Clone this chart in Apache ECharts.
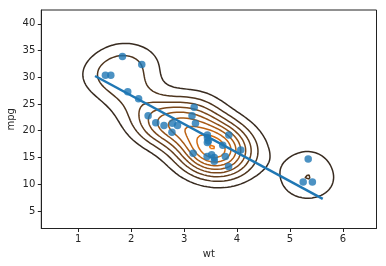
<!DOCTYPE html>
<html>
<head>
<meta charset="utf-8">
<script src="https://cdn.jsdelivr.net/npm/echarts@6/dist/echarts.min.js"></script>
<style>
  html, body { margin: 0; padding: 0; background: #fff; }
  #chart { width: 386px; height: 266px; }
</style>
</head>
<body>
<div id="chart"></div>
<script>
// mtcars: weight (1000 lbs) vs miles per gallon
const WT = [2.620, 2.875, 2.320, 3.215, 3.440, 3.460, 3.570, 3.190, 3.150, 3.440, 3.440,
  4.070, 3.730, 3.780, 5.250, 5.424, 5.345, 2.200, 1.615, 1.835, 2.465, 3.520, 3.435,
  3.840, 3.845, 1.935, 2.140, 1.513, 3.170, 2.770, 3.570, 2.780]
const MPG = [21.0, 21.0, 22.8, 21.4, 18.7, 18.1, 14.3, 24.4, 22.8, 19.2, 17.8,
  16.4, 17.3, 15.2, 10.4, 10.4, 14.7, 32.4, 30.4, 33.9, 21.5, 15.5, 15.2,
  13.3, 19.2, 27.3, 26.0, 30.4, 15.8, 19.7, 15.0, 21.4]

const X_TICKS = [1, 2, 3, 4, 5, 6]
const Y_TICKS = [5, 10, 15, 20, 25, 30, 35, 40]

const GRID_SIZE = 100
const CUT = 3
const N_LEVELS = 10

function percentile (values, p) {
  const s = values.slice().sort((a, b) => a - b)
  const idx = p / 100 * (s.length - 1)
  const lo = Math.floor(idx)
  const hi = Math.min(lo + 1, s.length - 1)
  return s[lo] + (s[hi] - s[lo]) * (idx - lo)
}

function std (values) {
  const m = values.reduce((a, b) => a + b, 0) / values.length
  const v = values.reduce((a, b) => a + (b - m) * (b - m), 0) / (values.length - 1)
  return Math.sqrt(v)
}

// scott bandwidth, statsmodels flavour
function bwScott (values) {
  const iqr = (percentile(values, 75) - percentile(values, 25)) / 1.349
  const a = Math.min(std(values), iqr)
  return 1.059 * a * Math.pow(values.length, -0.2)
}

function linspace (a, b, n) {
  const out = []
  for (let i = 0; i < n; i++) out.push(a + (b - a) * i / (n - 1))
  return out
}

function kdeGrid () {
  const hx = bwScott(WT)
  const hy = bwScott(MPG)
  const xs = linspace(Math.min(...WT) - hx * CUT, Math.max(...WT) + hx * CUT, GRID_SIZE)
  const ys = linspace(Math.min(...MPG) - hy * CUT, Math.max(...MPG) + hy * CUT, GRID_SIZE)
  const norm = 1 / (WT.length * hx * hy * 2 * Math.PI)
  const z = ys.map(y => xs.map(x => {
    let sum = 0
    for (let k = 0; k < WT.length; k++) {
      const u = (x - WT[k]) / hx
      const v = (y - MPG[k]) / hy
      sum += Math.exp(-0.5 * (u * u + v * v))
    }
    return sum * norm
  }))
  return { xs, ys, z }
}

function niceLevels (lo, hi, nbins) {
  const raw = (hi - lo) / nbins
  const scale = Math.pow(10, Math.floor(Math.log10(raw)))
  for (const s of [1, 2, 2.5, 5, 10]) {
    const step = s * scale
    const low = Math.floor(lo / step) * step
    const high = Math.ceil(hi / step) * step
    if ((high - low) / step <= nbins + 1e-9) {
      const out = []
      for (let v = low; v <= high + step * 1e-6; v += step) out.push(v)
      return out
    }
  }
  return [lo, hi]
}

function contourLines (xs, ys, z, level) {
  const segs = []
  const lerp = (a, b, va, vb) => a + (level - va) / (vb - va) * (b - a)
  for (let j = 0; j < ys.length - 1; j++) {
    for (let i = 0; i < xs.length - 1; i++) {
      const v0 = z[j][i], v1 = z[j][i + 1], v2 = z[j + 1][i + 1], v3 = z[j + 1][i]
      const pts = []
      if ((v0 > level) !== (v1 > level)) pts.push({ k: 'h' + i + '_' + j, p: [lerp(xs[i], xs[i + 1], v0, v1), ys[j]] })
      if ((v1 > level) !== (v2 > level)) pts.push({ k: 'v' + (i + 1) + '_' + j, p: [xs[i + 1], lerp(ys[j], ys[j + 1], v1, v2)] })
      if ((v3 > level) !== (v2 > level)) pts.push({ k: 'h' + i + '_' + (j + 1), p: [lerp(xs[i], xs[i + 1], v3, v2), ys[j + 1]] })
      if ((v0 > level) !== (v3 > level)) pts.push({ k: 'v' + i + '_' + j, p: [xs[i], lerp(ys[j], ys[j + 1], v0, v3)] })
      if (pts.length === 2) {
        segs.push(pts)
      } else if (pts.length === 4) {
        const center = (v0 + v1 + v2 + v3) / 4
        if ((center > level) === (v0 > level)) {
          segs.push([pts[0], pts[1]], [pts[2], pts[3]])
        } else {
          segs.push([pts[0], pts[3]], [pts[1], pts[2]])
        }
      }
    }
  }

  const byKey = new Map()
  segs.forEach((s, idx) => s.forEach(pt => {
    if (!byKey.has(pt.k)) byKey.set(pt.k, [])
    byKey.get(pt.k).push(idx)
  }))
  const used = new Array(segs.length).fill(false)
  const next = (pt) => {
    const cand = (byKey.get(pt.k) || []).find(idx => !used[idx])
    if (cand === undefined) return null
    used[cand] = true
    const s = segs[cand]
    return s[0].k === pt.k ? s[1] : s[0]
  }
  const lines = []
  for (let s = 0; s < segs.length; s++) {
    if (used[s]) continue
    used[s] = true
    const chain = [segs[s][0], segs[s][1]]
    let p
    while ((p = next(chain[chain.length - 1]))) chain.push(p)
    while ((p = next(chain[0]))) chain.unshift(p)
    lines.push(chain.map(c => c.p))
  }
  return lines
}

// seaborn dark_palette('#ff7f0e'): #222222 -> C1
function darkOrange (t) {
  const a = [34, 34, 34]
  const b = [255, 127, 14]
  const c = a.map((v, i) => Math.round(v + (b[i] - v) * t))
  return `rgb(${c[0]},${c[1]},${c[2]})`
}

function linearFit (xs, ys) {
  const n = xs.length
  const mx = xs.reduce((a, b) => a + b, 0) / n
  const my = ys.reduce((a, b) => a + b, 0) / n
  let sxy = 0, sxx = 0
  for (let i = 0; i < n; i++) {
    sxy += (xs[i] - mx) * (ys[i] - my)
    sxx += (xs[i] - mx) * (xs[i] - mx)
  }
  const slope = sxy / sxx
  return { slope, intercept: my - slope * mx }
}

const { xs, ys, z } = kdeGrid()
let zmin = Infinity, zmax = -Infinity
z.forEach(row => row.forEach(v => { zmin = Math.min(zmin, v); zmax = Math.max(zmax, v) }))
const levels = niceLevels(zmin, zmax, N_LEVELS + 1)
const lvLo = levels[0]
const lvHi = levels[levels.length - 1]

const contourSeries = levels
  .filter(l => l > zmin && l < zmax)
  .map(l => ({
    type: 'lines',
    coordinateSystem: 'cartesian2d',
    polyline: true,
    silent: true,
    z: 1,
    lineStyle: { color: darkOrange((l - lvLo) / (lvHi - lvLo)), width: 1.5, opacity: 1 },
    data: contourLines(xs, ys, z, l).map(c => ({ coords: c }))
  }))

const fit = linearFit(WT, MPG)
const wtMin = Math.min(...WT)
const wtMax = Math.max(...WT)
const pad = (wtMax - wtMin) * 0.05
const fitLine = [wtMin - pad, wtMax + pad].map(x => [x, fit.intercept + fit.slope * x])

const TEXT = '#262626'
const FONT = 'DejaVu Sans'

const chart = echarts.init(document.getElementById('chart'), null, { renderer: 'canvas' })
chart.setOption({
  animation: false,
  backgroundColor: '#fff',
  grid: {
    left: 41.3, right: 9.5, top: 10, bottom: 37.5,
    show: true, borderColor: '#222', borderWidth: 1,
    outerBoundsMode: 'none'
  },
  xAxis: {
    type: 'value',
    min: xs[0],
    max: xs[xs.length - 1],
    name: 'wt',
    nameLocation: 'middle',
    nameGap: 21,
    nameMoveOverlap: false,
    nameTextStyle: { fontSize: 10, color: TEXT, fontFamily: FONT },
    splitLine: { show: false },
    axisLine: { show: true, onZero: false, lineStyle: { color: '#222', width: 1 } },
    axisTick: { show: true, length: 3.5, customValues: X_TICKS, lineStyle: { color: '#222' } },
    axisLabel: { customValues: X_TICKS, fontSize: 10, color: TEXT, fontFamily: FONT, margin: 6 }
  },
  yAxis: {
    type: 'value',
    min: ys[0],
    max: ys[ys.length - 1],
    name: 'mpg',
    nameLocation: 'middle',
    nameGap: 25,
    nameMoveOverlap: false,
    nameTextStyle: { fontSize: 10, color: TEXT, fontFamily: FONT },
    splitLine: { show: false },
    axisLine: { show: true, onZero: false, lineStyle: { color: '#222', width: 1 } },
    axisTick: { show: true, length: 3.5, customValues: Y_TICKS, lineStyle: { color: '#222' } },
    axisLabel: { customValues: Y_TICKS, fontSize: 10, color: TEXT, fontFamily: FONT, margin: 6 }
  },
  series: [
    ...contourSeries,
    {
      type: 'scatter',
      z: 3,
      symbolSize: 7.5,
      itemStyle: { color: '#1f77b4', opacity: 0.8 },
      data: WT.map((w, i) => [w, MPG[i]])
    },
    {
      type: 'line',
      z: 4,
      symbol: 'none',
      lineStyle: { color: '#1f77b4', width: 2.5 },
      data: fitLine
    }
  ]
})
</script>
</body>
</html>
